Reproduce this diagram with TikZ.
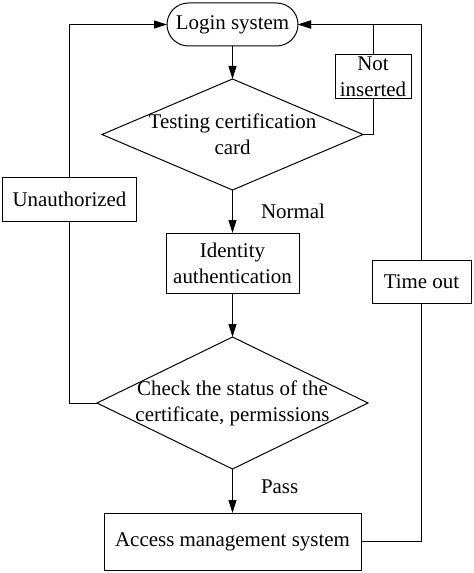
\documentclass[tikz,border=0pt]{standalone}
\usepackage{fontspec}
\setmainfont{Liberation Serif}
\usetikzlibrary{arrows.meta,positioning,shapes.geometric}

\begin{document}
\begin{tikzpicture}[x=1bp,y=1bp,line width=1bp,>={Triangle[length=13bp,width=8bp]},font=\fontsize{21}{26}\selectfont]

\tikzset{
term/.style={
    draw,
    rounded corners=21.5bp,
    minimum width=131bp,
    minimum height=43bp,
    inner sep=0pt,
    outer sep=0pt
},
box/.style={
    draw,
    align=center,
    inner sep=0pt,
    outer sep=0pt
},
dec/.style={
    draw,
    diamond,
    inner sep=0pt,
    outer sep=0pt
},
a/.style={->},
lab/.style={anchor=west,inner sep=0pt,xshift=28bp}
}

\useasboundingbox (0,0) rectangle (474,-573);

\node[term] (login) at (232.5,-24.5) {Login system};
\node[dec,minimum width=261bp,minimum height=111bp,below=33bp of login,
  label={[align=center]center:Testing certification\\card}] (test) {};
\node[box,minimum width=133bp,minimum height=60bp,below=43bp of test] (ident) {Identity\\authentication};
\node[dec,minimum width=271bp,minimum height=132bp,below=44bp of ident,
  label={[align=center]center:Check the status of the\\certificate, permissions}] (check) {};
\node[box,minimum width=257bp,minimum height=57bp,below=44bp of check] (access) {Access management system};

\node[box,minimum width=76bp,minimum height=44bp] (notins) at (373,-77) {Not\\inserted};
\node[box,minimum width=133bp,minimum height=44bp] (unauth) at (69.5,-199) {Unauthorized};
\node[box,minimum width=99bp,minimum height=43bp] (timeout) at (421.5,-281.5) {Time out};

\draw[a] (login) -- (test);
\draw[a] (test) -- node[lab]{Normal} (ident);
\draw[a] (ident) -- (check);
\draw[a] (check) -- node[lab,pos=0.4]{Pass} (access);

\draw (test.east) -| (notins.south);
\draw[a] (notins.north) |- (login.east);
\draw (access.east) -| (timeout.south);
\draw[a] (timeout.north) |- (login.east);
\draw (check.west) -| (unauth.south);
\draw[a] (unauth.north) |- (login.west);

\end{tikzpicture}
\end{document}
